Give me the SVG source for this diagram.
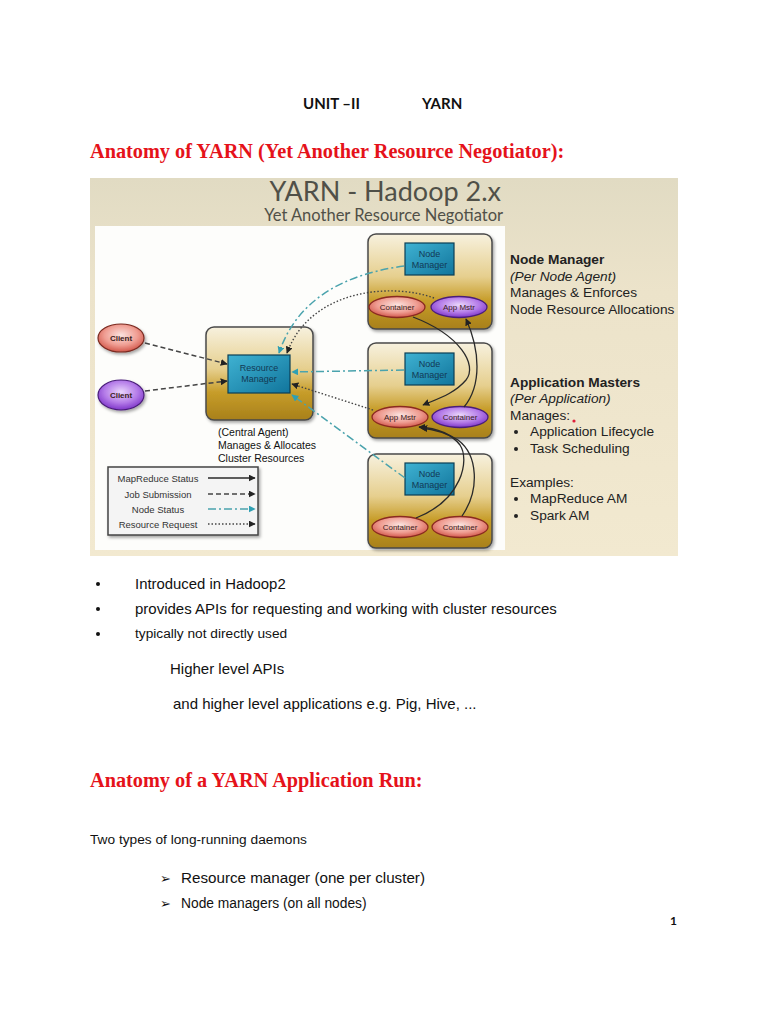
<svg xmlns="http://www.w3.org/2000/svg" width="768" height="1024" viewBox="0 0 768 1024">
<style>
.pg{font-family:"Liberation Sans",Arial,sans-serif;fill:#111}
.hd{font-family:"Liberation Serif","Times New Roman",serif;font-weight:bold;fill:#e5121a;font-size:20.3px}
.unit{font-family:Lato,"Liberation Sans",sans-serif;font-weight:bold;font-size:15px;fill:#111}
.box{stroke:#4a4a4a;stroke-width:1.5}
.inner{fill:url(#teal);stroke:#0b3f55;stroke-width:1.2}
.it{font-family:"Liberation Sans",Arial,sans-serif;font-size:9px;fill:#123a55;text-anchor:middle}
.el{font-family:"Liberation Sans",Arial,sans-serif;font-size:8px;fill:#3a2020;text-anchor:middle}
.rt{font-family:"Liberation Sans",Arial,sans-serif;font-size:13.7px;fill:#222}
.lg{font-family:"Liberation Sans",Arial,sans-serif;font-size:9.5px;fill:#333;text-anchor:middle}
.solid{fill:none;stroke:#2a2a2a;stroke-width:1.3;marker-end:url(#ad)}
.dash{fill:none;stroke:#444;stroke-width:1.5;stroke-dasharray:5 3;marker-end:url(#ad)}
.dot{fill:none;stroke:#444;stroke-width:1.4;stroke-dasharray:1.5 2;marker-end:url(#ad)}
.ns{fill:none;stroke:#4aa3ad;stroke-width:1.5;stroke-dasharray:8 3 2 3;marker-end:url(#at)}
</style>
<defs>
<linearGradient id="bg" x1="0" y1="0" x2="0" y2="1">
<stop offset="0" stop-color="#e1dbc3"/><stop offset="0.3" stop-color="#ece3ca"/><stop offset="1" stop-color="#f2e9d0"/>
</linearGradient>
<linearGradient id="gold" x1="0" y1="0" x2="0" y2="1">
<stop offset="0" stop-color="#f7f1de"/><stop offset="0.45" stop-color="#e6cf8e"/><stop offset="0.7" stop-color="#c79d2a"/><stop offset="1" stop-color="#a8801a"/>
</linearGradient>
<linearGradient id="teal" x1="0" y1="0" x2="1" y2="1">
<stop offset="0" stop-color="#3fb2d2"/><stop offset="1" stop-color="#11759c"/>
</linearGradient>
<radialGradient id="red" cx="0.5" cy="0.4" r="0.6">
<stop offset="0" stop-color="#fbe3df"/><stop offset="0.6" stop-color="#ef9d92"/><stop offset="1" stop-color="#d2574b"/>
</radialGradient>
<radialGradient id="purple" cx="0.5" cy="0.4" r="0.6">
<stop offset="0" stop-color="#ead6fb"/><stop offset="0.6" stop-color="#b47be8"/><stop offset="1" stop-color="#7e36c9"/>
</radialGradient>
<filter id="sh" x="-10%" y="-10%" width="130%" height="130%">
<feDropShadow dx="1.5" dy="2" stdDeviation="1.5" flood-color="#000" flood-opacity="0.35"/>
</filter>
<marker id="ad" viewBox="0 0 10 10" refX="9" refY="5" markerWidth="7" markerHeight="7" orient="auto" markerUnits="userSpaceOnUse">
<path d="M0,0 L10,5 L0,10 z" fill="#222"/>
</marker>
<marker id="at" viewBox="0 0 10 10" refX="9" refY="5" markerWidth="7" markerHeight="7" orient="auto" markerUnits="userSpaceOnUse">
<path d="M0,0 L10,5 L0,10 z" fill="#2f9fb3"/>
</marker>
</defs>
<rect width="768" height="1024" fill="#fff"/>

<g id="page-header">
<text class="unit" x="303" y="109">UNIT –II</text>
<text class="unit" x="422" y="109">YARN</text>
<text class="hd" x="90" y="158">Anatomy of YARN (Yet Another Resource Negotiator):</text>
</g>

<g id="figure">
<rect x="90" y="178" width="588" height="378" fill="url(#bg)"/>
<rect x="95" y="226" width="410" height="324" fill="#fdfdfb"/>
<text x="501" y="201" text-anchor="end" font-family="Lato,'Open Sans',sans-serif" font-size="27" fill="#505048">YARN - Hadoop 2.x</text>
<text x="503" y="221" text-anchor="end" font-family="Lato,'Open Sans',sans-serif" font-size="16.5" fill="#505048">Yet Another Resource Negotiator</text>
</g>

<g id="resource-manager">
<rect class="box" x="206" y="327" width="107" height="93" rx="8" fill="url(#gold)" filter="url(#sh)"/>
<rect class="inner" x="228" y="355" width="62" height="38"/>
<text class="it" x="259" y="371">Resource</text>
<text class="it" x="259" y="382">Manager</text>
<text class="pg" x="218" y="436" font-size="10.5" fill="#333">(Central Agent)</text>
<text class="pg" x="218" y="449" font-size="10.5" fill="#333">Manages &amp; Allocates</text>
<text class="pg" x="218" y="462" font-size="10.5" fill="#333">Cluster Resources</text>
</g>

<g id="client-1">
<ellipse cx="121" cy="338" rx="23" ry="14" fill="url(#red)" stroke="#7a2a20" stroke-width="1.2" filter="url(#sh)"/>
<text class="el" x="121" y="341" font-size="8.5" font-weight="bold">Client</text>
</g>
<g id="client-2">
<ellipse cx="121" cy="395" rx="23" ry="15" fill="url(#purple)" stroke="#4a1d7a" stroke-width="1.2" filter="url(#sh)"/>
<text class="el" x="121" y="398" font-size="8.5" font-weight="bold">Client</text>
</g>

<g id="node-1">
<rect class="box" x="368" y="234" width="124" height="95" rx="8" fill="url(#gold)" filter="url(#sh)"/>
<rect class="inner" x="405" y="243" width="49" height="32"/>
<text class="it" x="429.5" y="257">Node</text>
<text class="it" x="429.5" y="268">Manager</text>
<ellipse cx="397" cy="307" rx="28" ry="10.5" fill="url(#red)" stroke="#8a2a20" stroke-width="1.3"/>
<text class="el" x="397" y="310">Container</text>
<ellipse cx="459" cy="307" rx="28" ry="10.5" fill="url(#purple)" stroke="#4a1d7a" stroke-width="1.3"/>
<text class="el" x="459" y="310">App Mstr</text>
</g>

<g id="node-2">
<rect class="box" x="368" y="343" width="124" height="95" rx="8" fill="url(#gold)" filter="url(#sh)"/>
<rect class="inner" x="405" y="353" width="49" height="32"/>
<text class="it" x="429.5" y="367">Node</text>
<text class="it" x="429.5" y="378">Manager</text>
<ellipse cx="400" cy="417" rx="28" ry="10.5" fill="url(#red)" stroke="#8a2a20" stroke-width="1.3"/>
<text class="el" x="400" y="420">App Mstr</text>
<ellipse cx="460" cy="417" rx="28" ry="10.5" fill="url(#purple)" stroke="#4a1d7a" stroke-width="1.3"/>
<text class="el" x="460" y="420">Container</text>
</g>

<g id="node-3">
<rect class="box" x="368" y="454" width="124" height="94" rx="8" fill="url(#gold)" filter="url(#sh)"/>
<rect class="inner" x="405" y="463" width="49" height="32"/>
<text class="it" x="429.5" y="477">Node</text>
<text class="it" x="429.5" y="488">Manager</text>
<ellipse cx="400" cy="527" rx="28" ry="10.5" fill="url(#red)" stroke="#8a2a20" stroke-width="1.3"/>
<text class="el" x="400" y="530">Container</text>
<ellipse cx="460" cy="527" rx="28" ry="10.5" fill="url(#red)" stroke="#8a2a20" stroke-width="1.3"/>
<text class="el" x="460" y="530">Container</text>
</g>

<g id="legend">
<rect x="108" y="467" width="150" height="68" fill="#f4f4f4" stroke="#444" stroke-width="1.5" filter="url(#sh)"/>
<text class="lg" x="158" y="482">MapReduce Status</text>
<text class="lg" x="158" y="498">Job Submission</text>
<text class="lg" x="158" y="513">Node Status</text>
<text class="lg" x="158" y="528">Resource Request</text>
<line class="solid" x1="208" y1="478" x2="255" y2="478"/>
<line class="dash" x1="208" y1="494" x2="255" y2="494"/>
<line class="ns" x1="208" y1="509" x2="255" y2="509"/>
<line class="dot" x1="208" y1="524" x2="255" y2="524"/>
</g>

<g id="connectors">
<path class="dash" d="M145,343 L227,364"/>
<path class="dash" d="M145,391 L227,381"/>
<path class="ns" d="M404,266 C360,272 300,290 279,353"/>
<path class="dot" d="M434,298 C390,282 310,290 287,353"/>
<path class="ns" d="M404,370 L292,372"/>
<path class="dot" d="M373,410 L292,384"/>
<path class="ns" d="M405,478 L292,395"/>
<path class="solid" d="M413,317 C460,335 478,365 466,380 C455,393 440,398 423,405"/>
<path class="solid" d="M464,407 C482,385 480,350 466,319"/>
<path class="solid" d="M416,518 C462,500 470,460 460,445 C450,432 435,428 419,427"/>
<path class="solid" d="M462,516 C480,490 478,455 458,440 C445,432 432,429 421,428"/>
</g>

<g id="figure-notes">
<text class="rt" x="510" y="264" font-weight="bold">Node Manager</text>
<text class="rt" x="510" y="281" font-style="italic">(Per Node Agent)</text>
<text class="rt" x="510" y="297">Manages &amp; Enforces</text>
<text class="rt" x="510" y="314">Node Resource Allocations</text>
<text class="rt" x="510" y="387" font-weight="bold">Application Masters</text>
<text class="rt" x="510" y="403" font-style="italic">(Per Application)</text>
<text class="rt" x="510" y="420">Manages:</text>
<circle cx="574" cy="421" r="1.6" fill="#e0203a"/>
<circle cx="516" cy="432" r="2" fill="#222"/>
<text class="rt" x="530" y="436">Application Lifecycle</text>
<circle cx="516" cy="449" r="2" fill="#222"/>
<text class="rt" x="530" y="453">Task Scheduling</text>
<text class="rt" x="510" y="487">Examples:</text>
<circle cx="516" cy="499" r="2" fill="#222"/>
<text class="rt" x="530" y="503">MapReduce AM</text>
<circle cx="516" cy="516" r="2" fill="#222"/>
<text class="rt" x="530" y="520">Spark AM</text>
</g>

<g id="body-text" class="pg">
<circle cx="98" cy="584" r="2" fill="#111"/>
<text x="135" y="589" font-size="14.9">Introduced in Hadoop2</text>
<circle cx="98" cy="609" r="2" fill="#111"/>
<text x="135" y="614" font-size="15">provides APIs for requesting and working with cluster resources</text>
<circle cx="98" cy="634" r="2" fill="#111"/>
<text x="135" y="638" font-size="13.7">typically not directly used</text>
<text x="170" y="674" font-size="15">Higher level APIs</text>
<text x="173" y="709" font-size="15">and higher level applications e.g. Pig, Hive, ...</text>
<text class="hd" x="90" y="787">Anatomy of a YARN Application Run:</text>
<text x="90" y="844" font-size="13.7">Two types of long-running daemons</text>
<text x="160" y="883" font-size="13">➢</text>
<text x="181" y="883" font-size="15.2">Resource manager (one per cluster)</text>
<text x="160" y="908" font-size="13">➢</text>
<text x="181" y="908" font-size="13.8">Node managers (on all nodes)</text>
<text x="670" y="925" font-size="12" font-family="Lato,sans-serif" font-weight="bold">1</text>
</g>
</svg>
